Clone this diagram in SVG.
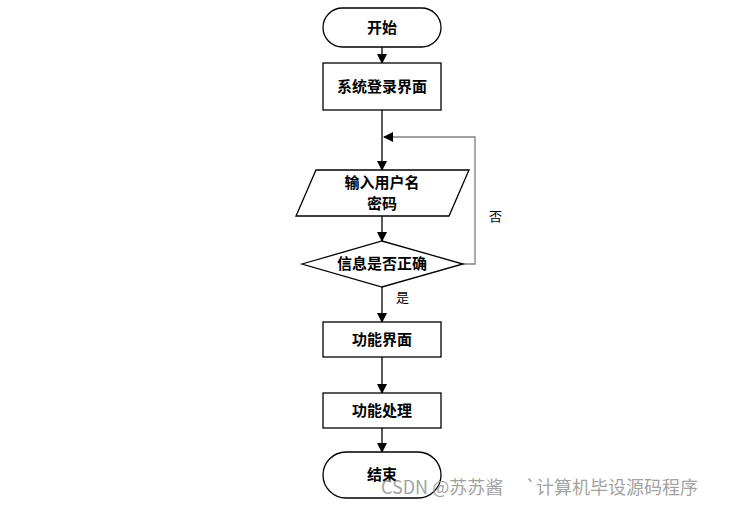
<svg xmlns="http://www.w3.org/2000/svg" width="740" height="505" viewBox="0 0 740 505">
<style>
.s{fill:#fff;stroke:#000;stroke-width:1.3}
.t{font-family:"Noto Sans CJK SC",sans-serif;font-size:15px;font-weight:bold;text-anchor:middle;fill:#000}
.c{fill:none;stroke:#000;stroke-width:1.3}
.g{fill:none;stroke:#808080;stroke-width:1.3}
.l{font-family:"Noto Sans CJK SC",sans-serif;font-size:13px;fill:#000}
</style>
<defs><marker id="a" markerWidth="10" markerHeight="10" refX="9" refY="5" orient="auto" markerUnits="userSpaceOnUse"><path d="M0,0L10,5L0,10z" fill="#000"/></marker></defs>
<rect width="740" height="505" fill="#fff"/>
<g id="connectors">
<line class="c" x1="382" y1="47" x2="382" y2="63" marker-end="url(#a)"/>
<line class="c" x1="382" y1="110" x2="382" y2="170" marker-end="url(#a)"/>
<line class="c" x1="382" y1="216" x2="382" y2="241" marker-end="url(#a)"/>
<polyline class="g" points="463,264 475,264 475,137 384,137" marker-end="url(#a)"/>
<line class="c" x1="382" y1="287" x2="382" y2="322" marker-end="url(#a)"/>
<line class="c" x1="382" y1="357" x2="382" y2="393" marker-end="url(#a)"/>
<line class="c" x1="382" y1="428" x2="382" y2="452" marker-end="url(#a)"/>
<text class="l" x="489" y="221">否</text>
<text class="l" x="396" y="302">是</text>
</g>
<g id="start"><rect class="s" x="323" y="8" width="118" height="39" rx="19.5"/><text class="t" x="382" y="33">开始</text></g>
<g id="login"><rect class="s" x="323" y="63" width="118" height="47"/><text class="t" x="382" y="92">系统登录界面</text></g>
<g id="input"><polygon class="s" points="316,170 469,170 449,216 296,216"/><text class="t" x="382" y="188">输入用户名</text><text class="t" x="382" y="209">密码</text></g>
<g id="check"><polygon class="s" points="302,264 382,241 463,264 382,287"/><text class="t" x="382" y="269">信息是否正确</text></g>
<g id="func"><rect class="s" x="323" y="322" width="118" height="35"/><text class="t" x="382" y="345">功能界面</text></g>
<g id="proc"><rect class="s" x="323" y="393" width="118" height="35"/><text class="t" x="382" y="416">功能处理</text></g>
<g id="end"><rect class="s" x="323" y="452" width="118" height="46" rx="23"/><text class="t" x="382" y="480">结束</text></g>
<text x="381" y="494" font-family="Noto Sans CJK SC,sans-serif" font-size="18" fill="#999" opacity="0.9">CSDN @苏苏酱　 `计算机毕设源码程序</text>
</svg>
